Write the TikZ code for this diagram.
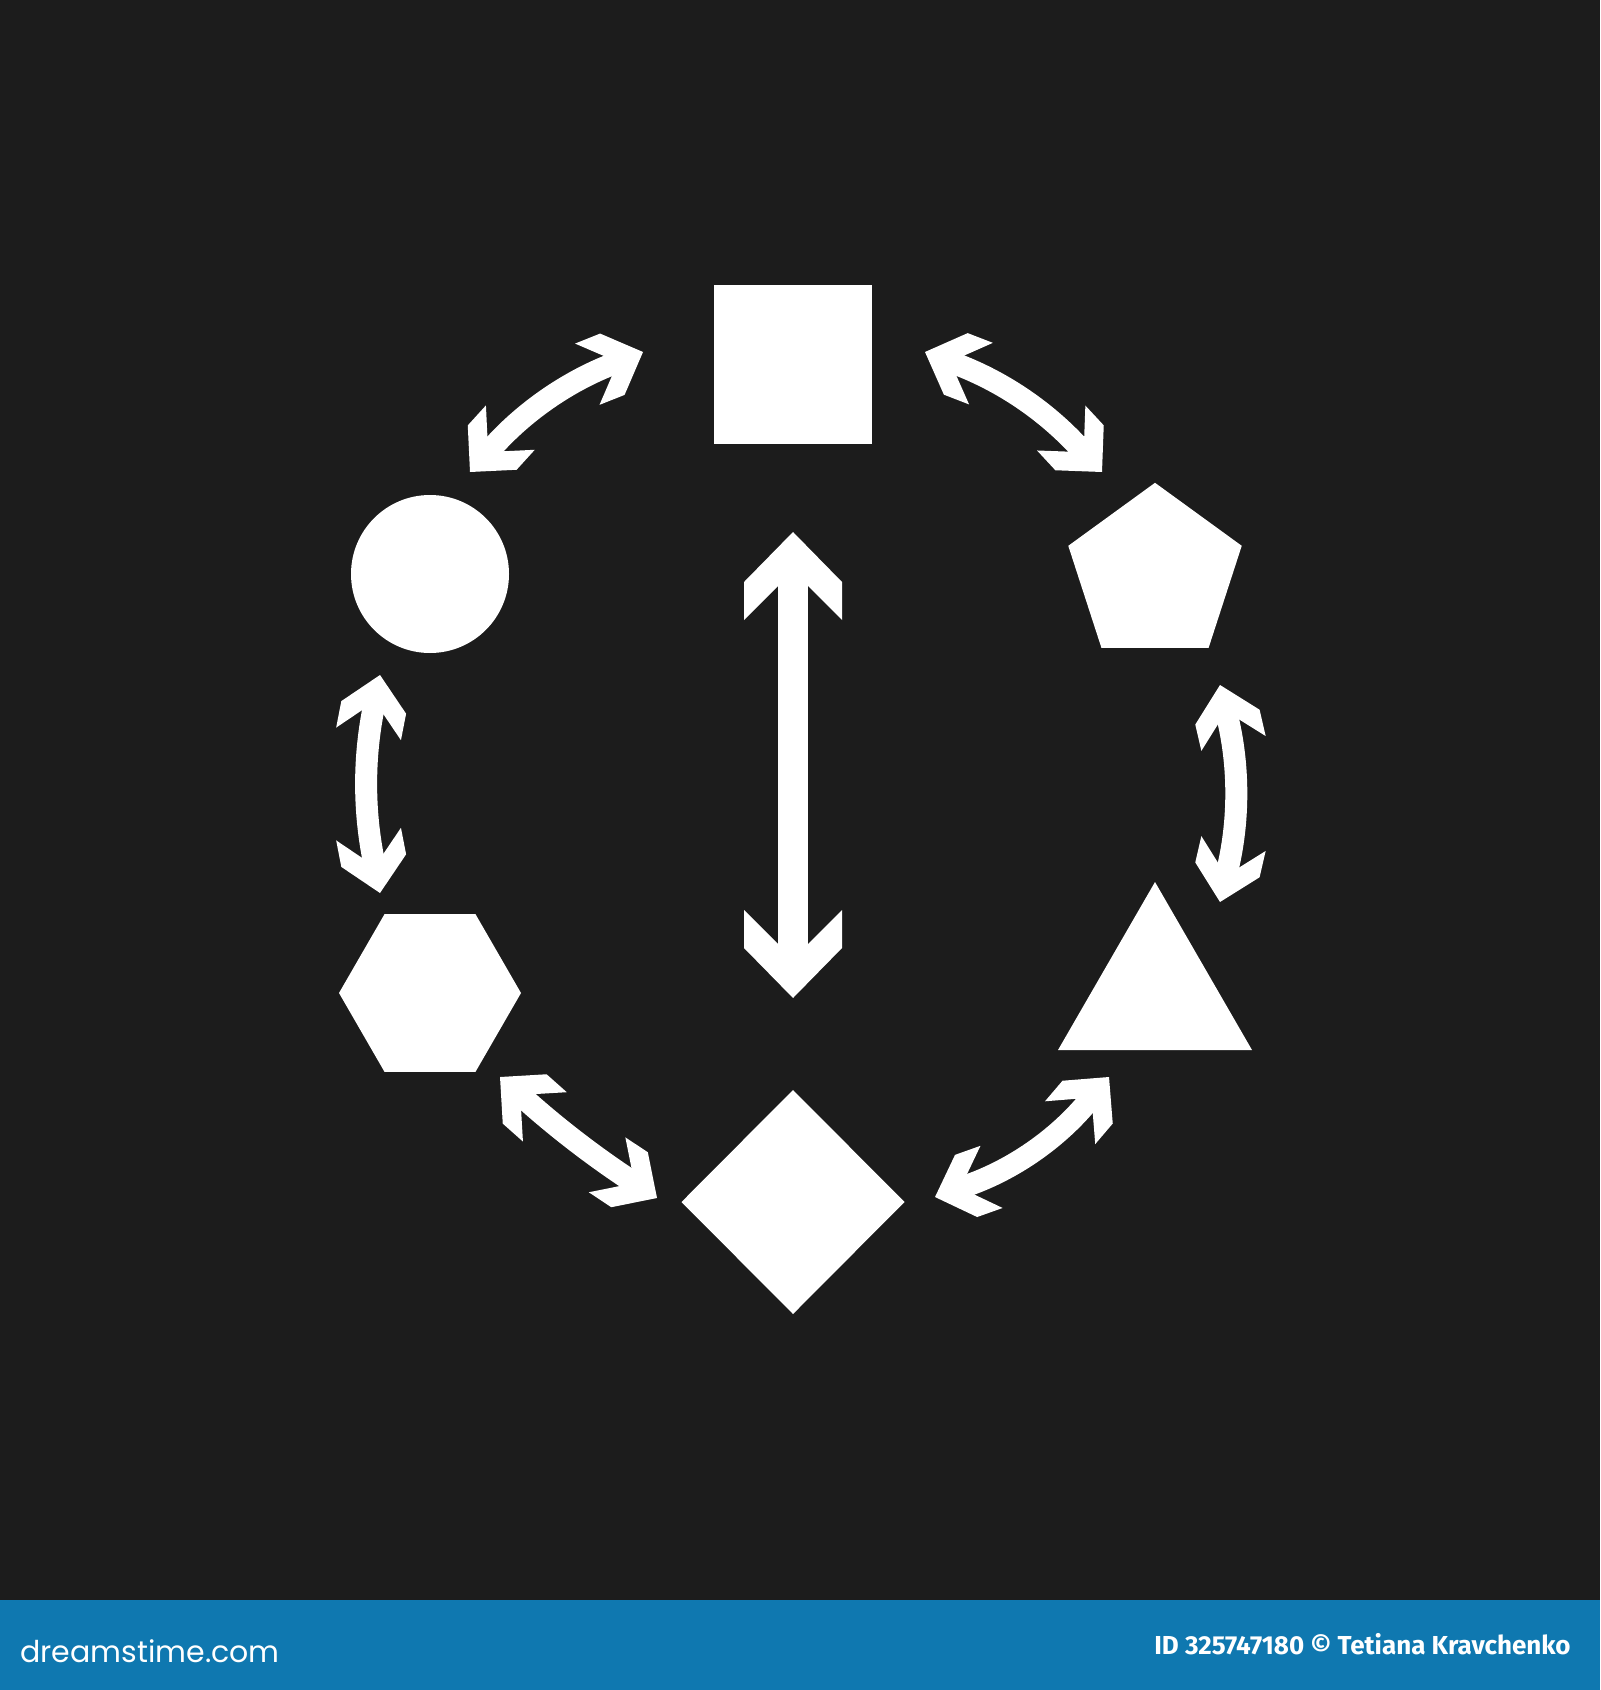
\documentclass[tikz,border=0pt]{standalone}
\usepackage{fontspec}
\usetikzlibrary{shapes.geometric,decorations.markings}
\newfontfamily\logofont{Poppins}
\newfontfamily\creditfont{Fira Sans}
\definecolor{bg}{HTML}{1C1C1C}
\definecolor{barblue}{HTML}{0F78B0}
\newcommand{\bighd}{\fill[white] (0,0)--(-50,49)--(-88,49)--(-54,15)--(-54,-15)--(-88,-49)--(-50,-49)--cycle;}
\newcommand{\smallhd}{\fill[white] (0,0)--(-33,33)--(-60,33)--(-38,11)--(-38,-11)--(-60,-33)--(-33,-33)--cycle;}
\tikzset{
  shapefill/.style={fill=white, draw=none, inner sep=0pt, outer sep=0pt},
  bigarrow/.style={draw=white, line width=15pt, shorten <=26pt, shorten >=26pt,
    preaction={decorate, decoration={markings,
      mark=at position 0 with {\begin{scope}[rotate=180]\bighd\end{scope}},
      mark=at position 1 with {\bighd}}}},
  smallarrow/.style={draw=white, line width=11pt, shorten <=18pt, shorten >=18pt,
    preaction={decorate, decoration={markings,
      mark=at position 0 with {\begin{scope}[rotate=180]\smallhd\end{scope}},
      mark=at position 1 with {\smallhd}}}},
}
\begin{document}
\begin{tikzpicture}[x=0.5pt,y=-0.5pt]
\useasboundingbox (0,0) rectangle (1600,1690);
\fill[bg] (0,0) rectangle (1600,1600);
\fill[barblue] (0,1600) rectangle (1600,1690);

% shapes
\node[shapefill, rectangle, minimum size=79pt] (sq) at (793,364.5) {};
\node[shapefill, circle, minimum size=79pt] (ci) at (430,574) {};
\node[shapefill, regular polygon, regular polygon sides=5, minimum size=91.2pt] (pe) at (1155,574) {};
\node[shapefill, regular polygon, regular polygon sides=6, minimum size=91pt] (hx) at (430,993) {};
\node[shapefill, regular polygon, regular polygon sides=3, minimum size=112pt] (tr) at (1155,994) {};
\node[shapefill, diamond, minimum width=111.5pt, minimum height=112pt] (di) at (793,1202) {};

% arrow end points
\coordinate (ula) at (470,472);   \coordinate (ulb) at (643,352);
\coordinate (ura) at (925,352);   \coordinate (urb) at (1102,472);
\coordinate (ra)  at (1220,685);  \coordinate (rb)  at (1220,902);
\coordinate (lra) at (1109,1077); \coordinate (lrb) at (935,1197);
\coordinate (lla) at (657,1198);  \coordinate (llb) at (500,1077);
\coordinate (la)  at (380,893);   \coordinate (lb)  at (380,675);
\coordinate (vt)  at (793,532);   \coordinate (vb)  at (793,998);

\draw[smallarrow] (ula) to[bend left=13] (ulb);
\draw[smallarrow] (ura) to[bend left=13] (urb);
\draw[smallarrow] (ra)  to[bend left=13] (rb);
\draw[smallarrow] (lra) to[bend left=15] (lrb);
\draw[smallarrow] (lla) to[bend left=4]  (llb);
\draw[smallarrow] (la)  to[bend left=11] (lb);
\draw[bigarrow] (vt) -- (vb);

% footer
\node[anchor=base west, inner sep=0pt, text=white, font=\logofont\fontsize{15pt}{15pt}\selectfont] (logo) at (20,1662) {dreamstime.com};
\node[anchor=base east, inner sep=0pt, text=white, font=\creditfont\bfseries\fontsize{13pt}{13pt}\selectfont] (credit) at (1571,1654) {ID 325747180 © Tetiana Kravchenko};
\end{tikzpicture}
\end{document}
